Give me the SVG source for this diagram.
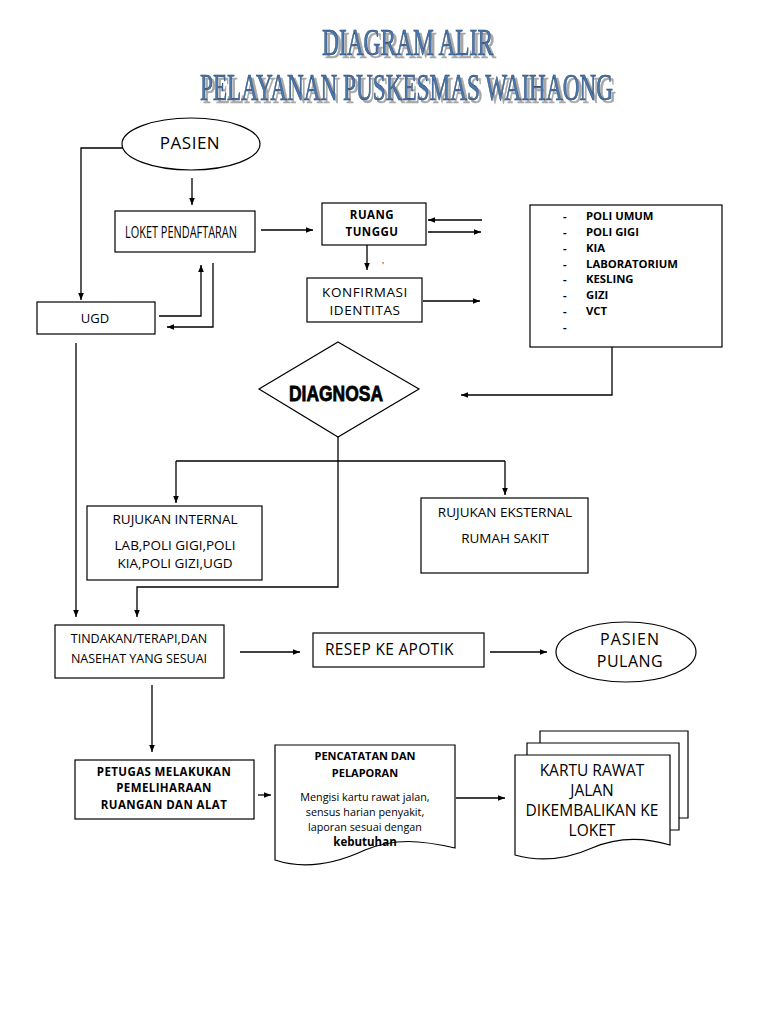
<svg xmlns="http://www.w3.org/2000/svg" width="768" height="1024" viewBox="0 0 768 1024">
<style>
.box{fill:#fff;stroke:#000;stroke-width:1.2}
.ln{fill:none;stroke:#000;stroke-width:1.3}
.t{font-family:"Open Sans","Liberation Sans",sans-serif;fill:#000}
.tb{font-family:"Open Sans","Liberation Sans",sans-serif;font-weight:bold;fill:#000}
.title{font-family:"Liberation Serif",serif;font-size:38px;fill:#4a78ad;stroke:#1d3d68;stroke-width:0.6}
</style>
<defs>
<marker id="ah" viewBox="0 0 10 10" refX="10" refY="5" markerWidth="7" markerHeight="7" markerUnits="userSpaceOnUse" orient="auto">
<path d="M0,1 L10,5 L0,9 z" fill="#000"/>
</marker>
<filter id="shadow" x="-5%" y="-20%" width="115%" height="150%">
<feOffset in="SourceAlpha" dx="3" dy="3" result="off"/>
<feFlood flood-color="#a8a8a8"/>
<feComposite in2="off" operator="in" result="sh"/>
<feMerge><feMergeNode in="sh"/><feMergeNode in="SourceGraphic"/></feMerge>
</filter>
</defs>
<rect width="768" height="1024" fill="#fff"/>

<g id="title" filter="url(#shadow)">
<text class="title" x="322" y="55" textLength="171" lengthAdjust="spacingAndGlyphs">DIAGRAM ALIR</text>
<text class="title" x="200" y="100" textLength="413" lengthAdjust="spacingAndGlyphs">PELAYANAN PUSKESMAS WAIHAONG</text>
</g>

<g id="connectors">
<path class="ln" d="M192,178 V205" marker-end="url(#ah)"/>
<path class="ln" d="M124,148 H81 V300" marker-end="url(#ah)"/>
<path class="ln" d="M261,230 H313" marker-end="url(#ah)"/>
<path class="ln" d="M159,316 H201 V265" marker-end="url(#ah)"/>
<path class="ln" d="M213,263 V327 H167" marker-end="url(#ah)"/>
<path class="ln" d="M482,220 H428" marker-end="url(#ah)"/>
<path class="ln" d="M428,232 H481" marker-end="url(#ah)"/>
<path class="ln" d="M367,245 V270" marker-end="url(#ah)"/>
<path class="ln" d="M423,301 H480" marker-end="url(#ah)"/>
<path class="ln" d="M612,347 V395 H461" marker-end="url(#ah)"/>
<path class="ln" d="M176,461 H505"/>
<path class="ln" d="M176,461 V503" marker-end="url(#ah)"/>
<path class="ln" d="M505,461 V495" marker-end="url(#ah)"/>
<path class="ln" d="M338,437 V587 H137 V617" marker-end="url(#ah)"/>
<path class="ln" d="M76,343 V617" marker-end="url(#ah)"/>
<path class="ln" d="M240,652 H300" marker-end="url(#ah)"/>
<path class="ln" d="M490,652 H547" marker-end="url(#ah)"/>
<path class="ln" d="M152,685 V752" marker-end="url(#ah)"/>
<path class="ln" d="M258,795 H271" marker-end="url(#ah)"/>
<path class="ln" d="M456,798 H505" marker-end="url(#ah)"/>
</g>

<g id="pasien">
<ellipse class="box" cx="191" cy="144" rx="69" ry="26"/>
<text class="t" x="190" y="149" font-size="17" letter-spacing="0.5" text-anchor="middle">PASIEN</text>
</g>

<g id="loket">
<rect class="box" x="115" y="211" width="140" height="41"/>
<text class="t" x="125" y="238" font-size="15.5" textLength="112" lengthAdjust="spacingAndGlyphs">LOKET PENDAFTARAN</text>
</g>

<g id="ugd">
<rect class="box" x="37" y="302" width="118" height="32"/>
<text class="t" x="95" y="323" font-size="13" text-anchor="middle">UGD</text>
</g>

<g id="ruang-tunggu">
<rect class="box" x="322" y="203" width="104" height="42"/>
<text class="tb" x="372" y="219" font-size="11.5" letter-spacing="0.5" text-anchor="middle">RUANG</text>
<text class="tb" x="372" y="236" font-size="11.5" letter-spacing="0.5" text-anchor="middle">TUNGGU</text>
<text class="t" x="382" y="269" font-size="9">'</text>
</g>

<g id="konfirmasi">
<rect class="box" x="307" y="278" width="115" height="44"/>
<text class="t" x="365" y="297" font-size="13.5" letter-spacing="0.6" text-anchor="middle">KONFIRMASI</text>
<text class="t" x="365" y="315" font-size="13.5" letter-spacing="0.6" text-anchor="middle">IDENTITAS</text>
</g>

<g id="poli">
<rect class="box" x="530" y="205" width="192" height="142"/>
<g class="tb" font-size="11.3">
<text x="563" y="220">-</text><text x="586" y="220">POLI UMUM</text>
<text x="563" y="236">-</text><text x="586" y="236">POLI GIGI</text>
<text x="563" y="252">-</text><text x="586" y="252">KIA</text>
<text x="563" y="268">-</text><text x="586" y="268">LABORATORIUM</text>
<text x="563" y="283">-</text><text x="586" y="283">KESLING</text>
<text x="563" y="299">-</text><text x="586" y="299">GIZI</text>
<text x="563" y="315">-</text><text x="586" y="315">VCT</text>
<text x="563" y="331">-</text>
</g>
</g>

<g id="diagnosa">
<polygon class="box" points="338,342 419,389 338,437 259,389"/>
<text x="336" y="401" font-family="'Liberation Sans',sans-serif" font-weight="bold" font-size="22" stroke="#000" stroke-width="0.8" text-anchor="middle" textLength="94" lengthAdjust="spacingAndGlyphs">DIAGNOSA</text>
</g>

<g id="rujukan-internal">
<rect class="box" x="87" y="506" width="175" height="74"/>
<text class="t" x="175" y="524" font-size="13.5" text-anchor="middle">RUJUKAN INTERNAL</text>
<text class="t" x="175" y="550" font-size="13.5" text-anchor="middle">LAB,POLI GIGI,POLI</text>
<text class="t" x="175" y="568" font-size="13.5" text-anchor="middle">KIA,POLI GIZI,UGD</text>
</g>

<g id="rujukan-eksternal">
<rect class="box" x="421" y="498" width="167" height="75"/>
<text class="t" x="505" y="517" font-size="13.5" text-anchor="middle">RUJUKAN EKSTERNAL</text>
<text class="t" x="505" y="543" font-size="13.5" text-anchor="middle">RUMAH SAKIT</text>
</g>

<g id="tindakan">
<rect class="box" x="55" y="625" width="169" height="53"/>
<text class="t" x="139" y="643" font-size="12.5" text-anchor="middle">TINDAKAN/TERAPI,DAN</text>
<text class="t" x="139" y="663" font-size="12.5" text-anchor="middle">NASEHAT YANG SESUAI</text>
</g>

<g id="resep">
<rect class="box" x="313" y="633" width="171" height="34"/>
<text class="t" x="325" y="655" font-size="15.5" letter-spacing="0.3">RESEP KE APOTIK</text>
</g>

<g id="pasien-pulang">
<ellipse class="box" cx="626" cy="652" rx="70" ry="30"/>
<text class="t" x="630" y="645" font-size="16" letter-spacing="1" text-anchor="middle">PASIEN</text>
<text class="t" x="630" y="667" font-size="16" letter-spacing="0.5" text-anchor="middle">PULANG</text>
</g>

<g id="petugas">
<rect class="box" x="75" y="760" width="179" height="59"/>
<text class="tb" x="164" y="776" font-size="11.5" letter-spacing="0.4" text-anchor="middle">PETUGAS MELAKUKAN</text>
<text class="tb" x="164" y="792" font-size="11.5" letter-spacing="0.4" text-anchor="middle">PEMELIHARAAN</text>
<text class="tb" x="164" y="809" font-size="11.5" letter-spacing="0.4" text-anchor="middle">RUANGAN DAN ALAT</text>
</g>

<g id="pencatatan">
<path class="box" d="M275,745 H455 V848 C420,840 395,838 365,850 C335,864 305,870 275,860 Z"/>
<text class="tb" x="365" y="760" font-size="11" text-anchor="middle">PENCATATAN DAN</text>
<text class="tb" x="365" y="777" font-size="11" text-anchor="middle">PELAPORAN</text>
<text class="t" x="365" y="801" font-size="10.8" text-anchor="middle">Mengisi kartu rawat jalan,</text>
<text class="t" x="365" y="816" font-size="10.8" text-anchor="middle">sensus harian penyakit,</text>
<text class="t" x="365" y="831" font-size="10.8" text-anchor="middle">laporan sesuai dengan</text>
<text class="tb" x="365" y="846" font-size="11.5" text-anchor="middle">kebutuhan</text>
</g>

<g id="kartu">
<path class="box" d="M540,731 H688 V818 H540 Z"/>
<path class="box" d="M527,743 H679 V830 H527 Z"/>
<path class="box" d="M515,755 H670 V845 C640,836 615,838 592,848 C565,860 540,862 515,855 Z"/>
<text class="t" x="592" y="776" font-size="15.5" text-anchor="middle">KARTU RAWAT</text>
<text class="t" x="592" y="796" font-size="15.5" text-anchor="middle">JALAN</text>
<text class="t" x="592" y="816" font-size="15.5" text-anchor="middle">DIKEMBALIKAN KE</text>
<text class="t" x="592" y="836" font-size="15.5" text-anchor="middle">LOKET</text>
</g>
</svg>
